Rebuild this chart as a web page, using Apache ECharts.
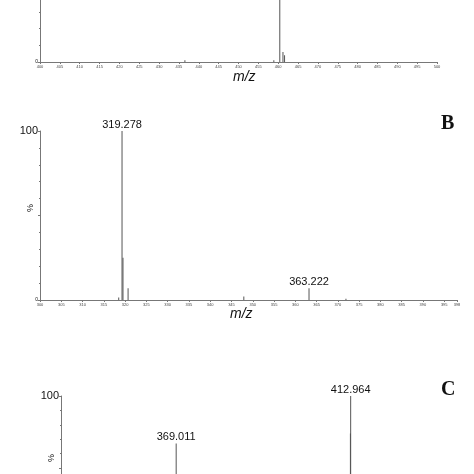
<!DOCTYPE html>
<html><head><meta charset="utf-8">
<script src="https://cdn.jsdelivr.net/npm/echarts@6/dist/echarts.min.js"></script>
<style>html,body{margin:0;background:#fff;overflow:hidden;width:474px;height:474px}#c{width:474px;height:700px;margin-top:-110px}</style>
</head><body><div id="c"></div>
<script>
// 三个质谱图 A / B / C（A 只露出底部，C 只露出顶部）
const peaksA = [[460.4, 100], [461.2, 6], [461.6, 4], [458.9, 1], [436.5, 1]];
const peaksB = [[319.278, 100], [319.5, 25], [320.7, 7], [318.5, 1.5], [347.9, 2], [363.222, 7], [371.9, 0.8]];
const peaksC = [[369.011, 67], [412.964, 100], [412.9, 74]];
const labelledB = [319.278, 363.222];
const labelledC = [369.011, 412.964];
const rangeA = [400, 500];
const rangeB = [300, 398];
const rangeC = [340, 440];

const off = 110; // 画布上移量
const grey = '#777';
function toData(peaks, labelled) {
  return peaks.map(p => ({
    value: p,
    label: { show: labelled.indexOf(p[0]) >= 0 }
  }));
}
function xAx(idx, r) {
  return {
    type: 'value', gridIndex: idx, min: r[0], max: r[1], interval: 5,
    axisLine: { lineStyle: { color: grey } },
    axisTick: { length: 2, lineStyle: { color: grey } },
    axisLabel: { fontSize: 4, color: '#444', margin: 3, formatter: v => v.toFixed(0) },
    splitLine: { show: false }
  };
}
function yAx(idx) {
  return {
    type: 'value', gridIndex: idx, min: 0, max: 100, interval: 50,
    axisLine: { show: true, lineStyle: { color: grey } },
    axisTick: { show: true, length: 2, lineStyle: { color: grey } },
    minorTick: { show: true, splitNumber: 5, length: 1, lineStyle: { color: grey } },
    axisLabel: { color: '#111', margin: 2,
      formatter: v => v == 100 ? '100' : (v == 0 ? '{s|0}' : ''),
      fontSize: 11, rich: { s: { fontSize: 5 } } },
    splitLine: { show: false }
  };
}
function ser(idx, peaks, labelled) {
  return {
    type: 'bar', xAxisIndex: idx, yAxisIndex: idx, barWidth: 1, barGap: '-100%',
    itemStyle: { color: '#555' },
    label: { position: 'top', fontSize: 11, color: '#111', distance: 1,
      formatter: p => p.value[0].toFixed(3) },
    data: toData(peaks, labelled)
  };
}
const chart = echarts.init(document.getElementById('c'));
chart.setOption({
  animation: false,
  grid: [
    { left: 40, right: 37, top: off - 107, height: 169 },
    { left: 40, right: 17, top: off + 131, height: 169 },
    { left: 61, right: 16, top: off + 396, height: 144 }
  ],
  xAxis: [xAx(0, rangeA), xAx(1, rangeB), xAx(2, rangeC)],
  yAxis: [yAx(0), yAx(1), yAx(2)],
  series: [ser(0, peaksA, []), ser(1, peaksB, labelledB), ser(2, peaksC, labelledC)],
  graphic: [
    { type: 'text', left: 233, top: off + 70, style: { text: 'm/z', fontSize: 14, fontStyle: 'italic', fill: '#111' } },
    { type: 'text', left: 230, top: off + 307, style: { text: 'm/z', fontSize: 14, fontStyle: 'italic', fill: '#111' } },
    { type: 'text', left: 441, top: off + 114, style: { text: 'B', fontSize: 20, fontWeight: 'bold', fontFamily: 'Liberation Serif', fill: '#111' } },
    { type: 'text', left: 441, top: off + 380, style: { text: 'C', fontSize: 20, fontWeight: 'bold', fontFamily: 'Liberation Serif', fill: '#111' } },
    { type: 'text', x: 26, y: off + 212, rotation: Math.PI / 2, style: { text: '%', fontSize: 9, fill: '#111' } },
    { type: 'text', x: 47, y: off + 462, rotation: Math.PI / 2, style: { text: '%', fontSize: 9, fill: '#111' } }
  ]
});
</script></body></html>
